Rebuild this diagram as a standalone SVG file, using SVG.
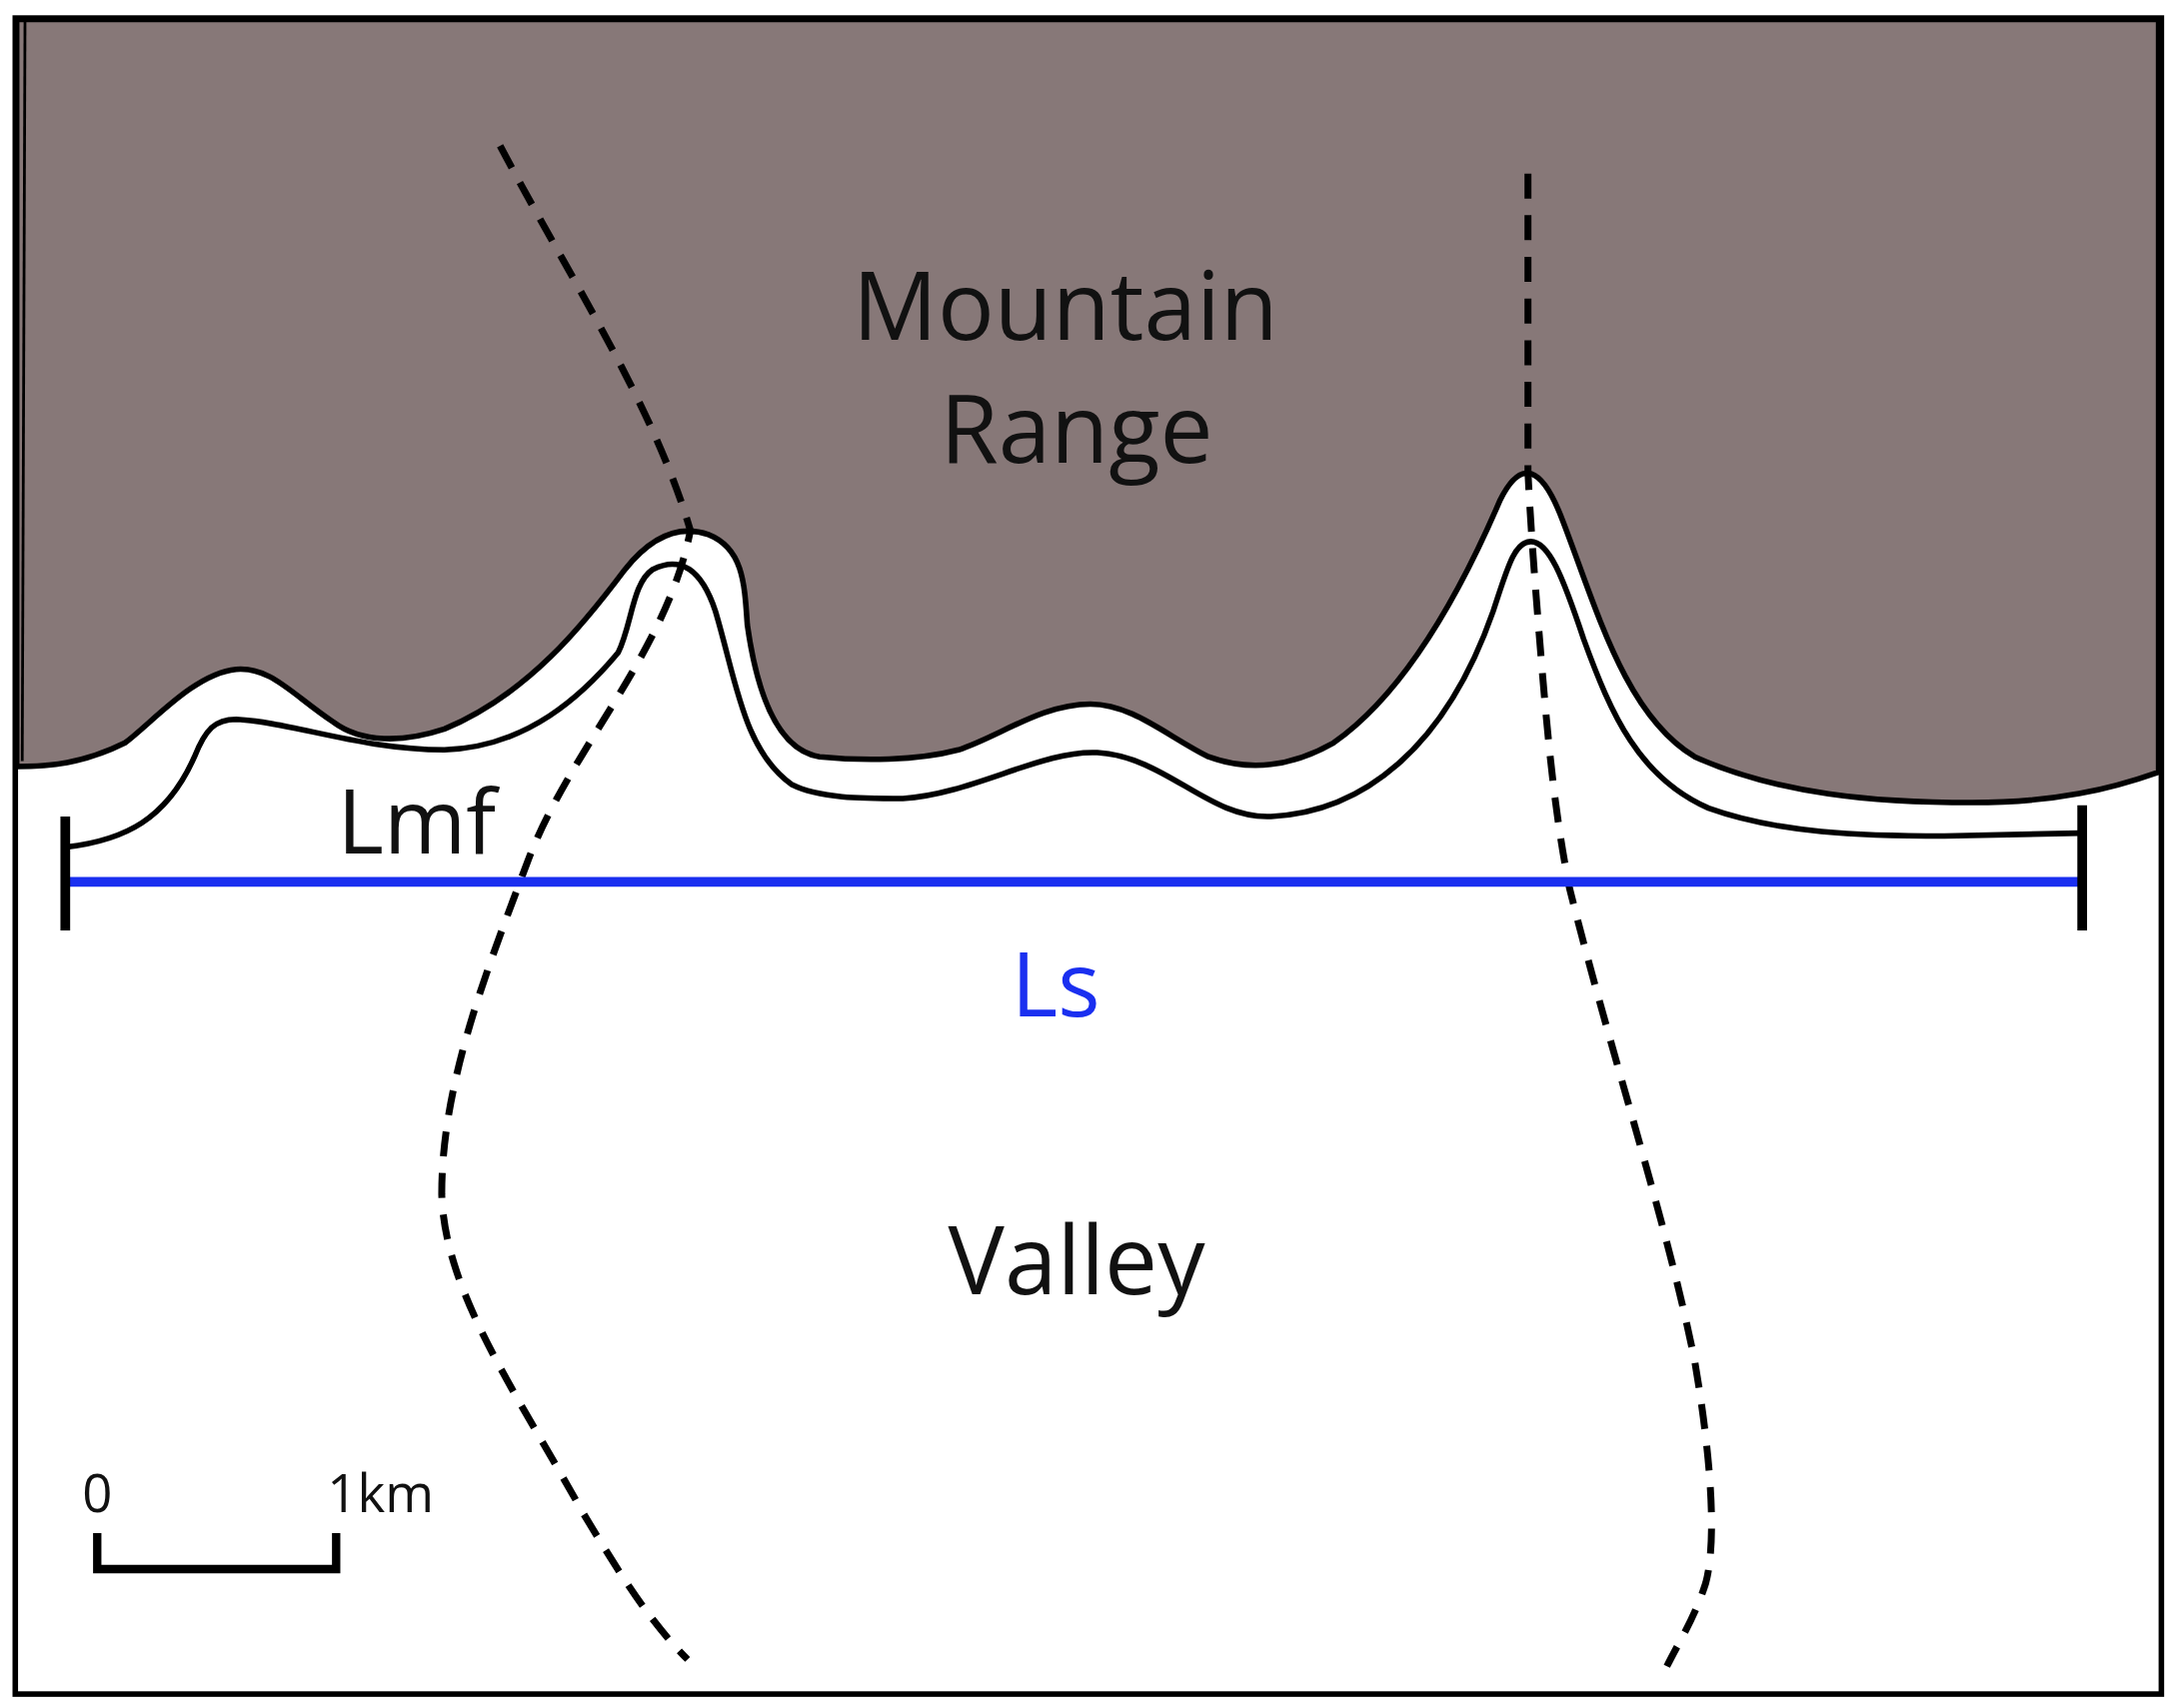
<svg xmlns="http://www.w3.org/2000/svg" width="2179" height="1709" viewBox="0 0 2179 1709">
<style>
.t{font-family:"Open Sans","Liberation Sans",sans-serif;fill:#111;text-anchor:middle}
.ln{fill:none;stroke:#000;stroke-width:4}
.dash{fill:none;stroke:#000;stroke-width:5;stroke-dasharray:18 12}
</style>
<rect width="2179" height="1709" fill="#fff"/>
<g transform="scale(1.3897,1.3894)">
<g id="mountain">
<path d="M12,14 H1554 V556 C1520,568 1480,578 1420,578 C1350,578 1280,572 1220,545 C1170,515 1150,440 1125,375 C1110,335 1095,330 1080,360 C1050,430 1010,500 960,535 C930,552 900,556 870,545 C840,530 815,507 785,507 C750,507 720,530 690,540 C660,548 620,548 590,545 C560,540 545,500 538,450 C536,420 535,395 510,385 C490,378 470,385 450,410 C420,450 380,500 320,525 C290,535 260,535 240,520 C210,500 195,480 170,482 C140,485 110,520 90,535 C60,550 35,552 12,552 Z" fill="#877878" stroke="#000" stroke-width="4"/>
<path class="ln" d="M48,610 C90,605 120,590 140,545 C148,525 155,518 170,518 C210,520 260,540 320,540 C380,538 420,500 445,470 C455,450 455,420 470,410 C490,400 505,410 515,440 C530,490 535,540 570,565 C590,575 620,575 650,575 C700,572 750,540 790,542 C840,545 870,590 915,588 C980,585 1040,540 1075,440 C1085,410 1090,390 1102,390 C1115,390 1125,415 1140,460 C1160,515 1180,560 1230,582 C1280,600 1340,602 1400,602 L1497,600"/>
<line x1="18" y1="14" x2="16" y2="548" stroke="#000" stroke-width="2"/>
</g>
<g id="connectors">
<path class="dash" d="M360,105 C410,200 470,290 497,382 C480,470 410,540 380,620 C350,700 318,780 318,860 C320,930 370,1000 420,1090 C450,1140 470,1170 495,1195"/>
<path class="dash" d="M1100,125 L1100,340 C1102,380 1105,420 1110,480 C1115,540 1120,590 1130,640 C1160,760 1200,880 1220,980 C1232,1050 1236,1110 1228,1140 C1220,1165 1210,1180 1200,1200"/>
</g>
<g id="ls">
<line x1="48" y1="635" x2="1497" y2="635" stroke="#1a2ff0" stroke-width="7"/>
<line x1="47" y1="588" x2="47" y2="670" stroke="#000" stroke-width="7"/>
<line x1="1499" y1="580" x2="1499" y2="670" stroke="#000" stroke-width="7"/>
</g>
<g id="labels">
<text class="t" x="767" y="245" font-size="68">Mountain</text>
<text class="t" x="775" y="333" font-size="68">Range</text>
<text class="t" x="300" y="615" font-size="64">Lmf</text>
<text class="t" x="760" y="732" font-size="64" style="fill:#1a2ff0">Ls</text>
<text class="t" x="775" y="932" font-size="68">Valley</text>
</g>
<g id="scale">
<path d="M70,1104 V1130 H242 V1104" fill="none" stroke="#000" stroke-width="6"/>
<text class="t" x="70" y="1089" font-size="38">0</text>
<text class="t" x="274" y="1089" font-size="38">1km</text>
</g>
<rect x="11" y="13" width="1545" height="1207" fill="none" stroke="#000" stroke-width="4"/>
</g>
</svg>
